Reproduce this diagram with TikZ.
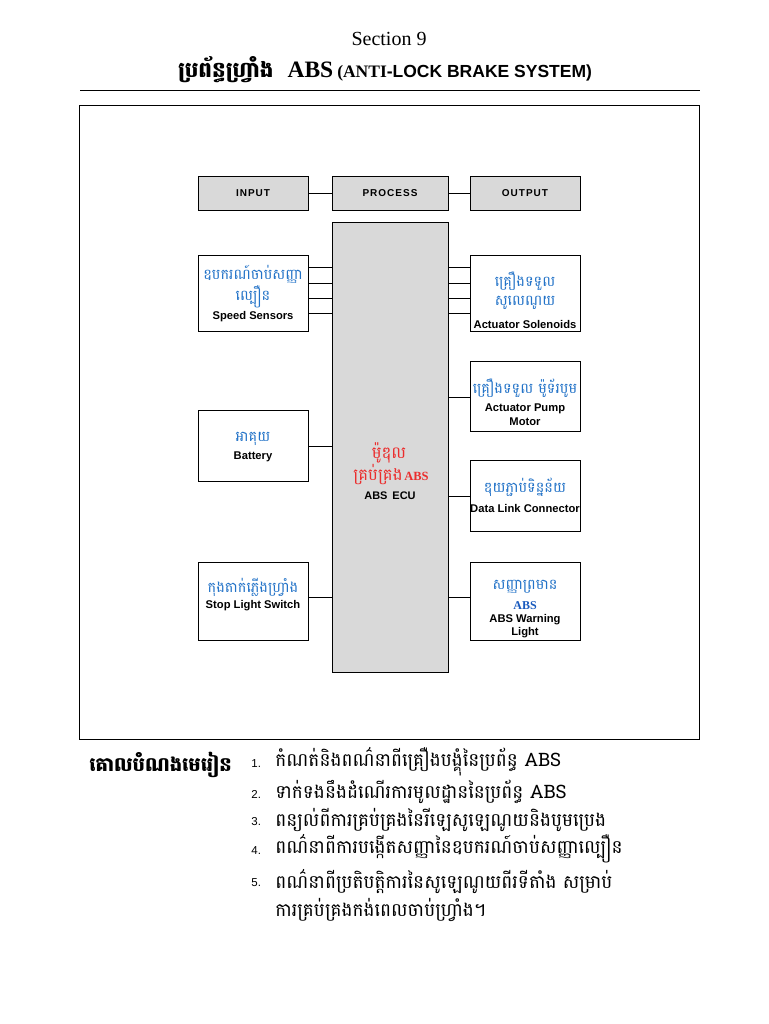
\documentclass[tikz,border=0pt]{standalone}
\usepackage{fontspec}
\setmainfont{Liberation Serif}
\newfontfamily\km[Script=Khmer]{Battambang}
\newfontfamily\ar{Liberation Sans}
\newfontfamily\arsp[LetterSpace=10]{Liberation Sans}
\definecolor{boxgray}{RGB}{217,217,217}
\definecolor{kblue}{RGB}{35,115,200}
\definecolor{kdblue}{RGB}{25,90,190}
\definecolor{kred}{RGB}{235,45,45}
\begin{document}
\begin{tikzpicture}[x=1pt,y=-1pt,
  line width=0.8pt,
  hdr/.style={draw, fill=boxgray, minimum width=110pt, minimum height=34pt, inner sep=0pt, font=\arsp\bfseries\fontsize{10}{12}\selectfont},
  wbox/.style={draw, fill=white, minimum width=110pt, inner sep=0pt},
  kt/.style={inner sep=0pt, text=kblue, font=\km\fontsize{14.5}{17}\selectfont},
  et/.style={inner sep=0pt, font=\ar\bfseries\fontsize{11.2}{13}\selectfont},
  item/.style={anchor=west, inner sep=0pt, font=\km\fontsize{18.5}{22}\selectfont},
  num/.style={anchor=west, inner sep=0pt, font=\ar\fontsize{11.5}{13}\selectfont},
]
\useasboundingbox (0,0) rectangle (768,1024);

% title
\node (sec) at (389,39) {\fontsize{20}{22}\selectfont Section 9};
\node (title) at (385,70) {{\km\bfseries\fontsize{21.5}{24}\selectfont ប្រព័ន្ធហ្វ្រាំង}\hspace{14pt}{\bfseries\fontsize{23.5}{26}\selectfont ABS}\hspace{4pt}{\bfseries\fontsize{17.5}{19}\selectfont (ANTI}{\ar\bfseries\fontsize{17.5}{19}\selectfont -LOCK BRAKE SYSTEM)}};
\coordinate (r1) at (80,90);
\coordinate (r2) at (700,90);
\draw (r1) -- (r2);

% frame
\node[draw, minimum width=620pt, minimum height=634pt, inner sep=0pt] (frame) at (389,422) {};

% headers
\node[hdr] (in) at (253,193) {INPUT};
\node[hdr, minimum width=116pt] (pr) at (390,193) {PROCESS};
\node[hdr] (out) at (525,193) {OUTPUT};
\draw (in) -- (pr);
\draw (pr) -- (out);

% ECU
\node[draw, fill=boxgray, minimum width=116pt, minimum height=450pt, inner sep=0pt] (ecu) at (390,447) {};
\node[inner sep=0pt, text=kred, font=\km\fontsize{16.5}{19}\selectfont] (ecu1) at (389,453) {ម៉ូឌុល};
\node[inner sep=0pt, text=kred] (ecu2) at (391,475) {{\km\fontsize{16.5}{19}\selectfont គ្រប់គ្រង}\,{\bfseries\fontsize{12.5}{14}\selectfont ABS}};
\node[et, font=\ar\bfseries\fontsize{11}{13}\selectfont] (ecu3) at (390,496) {ABS\ \,ECU};

% input boxes
\node[wbox, minimum height=76pt] (spd) at (253,293) {};
\node[kt] (spd1) at (253,274) {ឧបករណ៍ចាប់សញ្ញា};
\node[kt] (spd2) at (253,297) {ល្បឿន};
\node[et] (spd3) at (253,317) {Speed Sensors};

\node[wbox, minimum height=71pt] (bat) at (253.5,445.5) {};
\node[kt] (bat1) at (253,439) {អាគុយ};
\node[et] (bat2) at (253,457) {Battery};

\node[wbox, minimum height=78pt] (stp) at (253,601) {};
\node[kt] (stp1) at (253,587) {កុងតាក់ភ្លើងហ្វ្រាំង};
\node[et] (stp2) at (253,606) {Stop Light Switch};

% output boxes
\node[wbox, minimum height=76pt] (sol) at (525,293) {};
\node[kt] (sol1) at (525,281) {គ្រឿងទទួល};
\node[kt] (sol2) at (525,303) {សូលេណូយ};
\node[et] (sol3) at (525,324) {Actuator Solenoids};

\node[wbox, minimum height=70pt] (pmp) at (525,396) {};
\node[kt] (pmp1) at (525,388) {គ្រឿងទទួល ម៉ូទ័របូម};
\node[et] (pmp2) at (525,409) {Actuator Pump};
\node[et] (pmp3) at (525,422) {Motor};

\node[wbox, minimum height=71pt] (dlc) at (525,496) {};
\node[kt] (dlc1) at (525,487) {ឌុយភ្ជាប់ទិន្នន័យ};
\node[et] (dlc2) at (525,508) {Data Link Connector};

\node[wbox, minimum height=78pt] (wrn) at (525,601) {};
\node[kt] (wrn1) at (525,587) {សញ្ញាព្រមាន};
\node[inner sep=0pt, text=kdblue, font=\bfseries\fontsize{12}{14}\selectfont] (wrn2) at (525,606) {ABS};
\node[et] (wrn3) at (525,620) {ABS Warning};
\node[et] (wrn4) at (525,633) {Light};

% connectors
\foreach \s in {26,10,-5,-20}{
  \draw ([yshift=\s pt]spd.east) -- ([yshift=\s pt]spd.east -| ecu.west);
  \draw ([yshift=\s pt]sol.west) -- ([yshift=\s pt]sol.west -| ecu.east);
}
\draw ([yshift=-1pt]bat.east) -- ([yshift=-1pt]bat.east -| ecu.west);
\draw ([yshift=4pt]stp.east) -- ([yshift=4pt]stp.east -| ecu.west);
\draw ([yshift=-1pt]pmp.west) -- ([yshift=-1pt]pmp.west -| ecu.east);
\draw (dlc.west) -- (dlc.west -| ecu.east);
\draw ([yshift=4pt]wrn.west) -- ([yshift=4pt]wrn.west -| ecu.east);

% objectives
\node[anchor=west, inner sep=0pt] (obj) at (89,765) {\km\bfseries\fontsize{19.5}{22}\selectfont គោលបំណងមេរៀន};
\foreach \n/\yy/\t in {
 1/762/{កំណត់និងពណ៌នាពីគ្រឿងបង្គុំនៃប្រព័ន្ធ ABS},
 2/792/{ទាក់ទងនឹងដំណើរការមូលដ្ឋាននៃប្រព័ន្ធ ABS},
 3/820/{ពន្យល់ពីការគ្រប់គ្រងនៃរីឡេសូឡេណូយនិងបូមប្រេង},
 4/849/{ពណ៌នាពីការបង្កើតសញ្ញានៃឧបករណ៍ចាប់សញ្ញាល្បឿន},
 5/881/{ពណ៌នាពីប្រតិបត្តិការនៃសូឡេណូយពីរទីតាំង សម្រាប់}}{
  \node[num] (n\n) at (251,\yy+2) {\n.};
  \node[item] (t\n) at (275,\yy) {\t};
}
\node[item] (t6) at (275,910) {ការគ្រប់គ្រងកង់ពេលចាប់ហ្វ្រាំង។};
\end{tikzpicture}
\end{document}
